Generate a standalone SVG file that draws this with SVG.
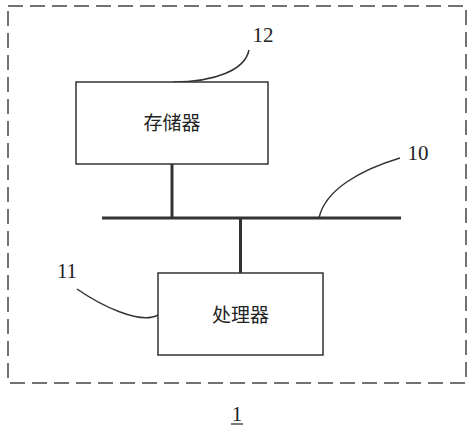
<svg xmlns="http://www.w3.org/2000/svg" width="474" height="432" viewBox="0 0 474 432">
<style>
.box{fill:#fff;stroke:#333;stroke-width:1.5}
.line{fill:none;stroke:#333;stroke-width:3}
.lead{fill:none;stroke:#333;stroke-width:1.5}
.cn{font-family:"Noto Sans CJK SC",sans-serif;font-size:19px;fill:#222;text-anchor:middle}
.num{font-family:"Liberation Serif",serif;font-size:21px;fill:#222;text-anchor:middle}
</style>
<rect x="8" y="6" width="458" height="377" fill="none" stroke="#444" stroke-width="1.5" stroke-dasharray="15,7"/>
<g id="connectors">
<line class="line" x1="102" y1="218" x2="401" y2="218"/>
<line class="line" x1="172" y1="164" x2="172" y2="218"/>
<line class="line" x1="240.5" y1="218" x2="240.5" y2="273"/>
<path class="lead" d="M173 82 C215 82 245 70 249 50"/>
<path class="lead" d="M319 218 C325 190 360 170 400 158"/>
<path class="lead" d="M77 289 C100 305 140 325 158 315"/>
</g>
<g id="memory">
<rect class="box" x="76" y="82" width="192" height="82"/>
<text class="cn" x="172" y="130">存储器</text>
</g>
<g id="processor">
<rect class="box" x="158" y="273" width="165" height="82"/>
<text class="cn" x="240.5" y="322">处理器</text>
</g>
<g id="labels">
<text class="num" x="263" y="42">12</text>
<text class="num" x="418" y="160">10</text>
<text class="num" x="67" y="278">11</text>
<text class="num" x="237" y="421">1</text>
<line x1="231" y1="424" x2="243" y2="424" stroke="#222" stroke-width="1.2"/>
</g>
</svg>
